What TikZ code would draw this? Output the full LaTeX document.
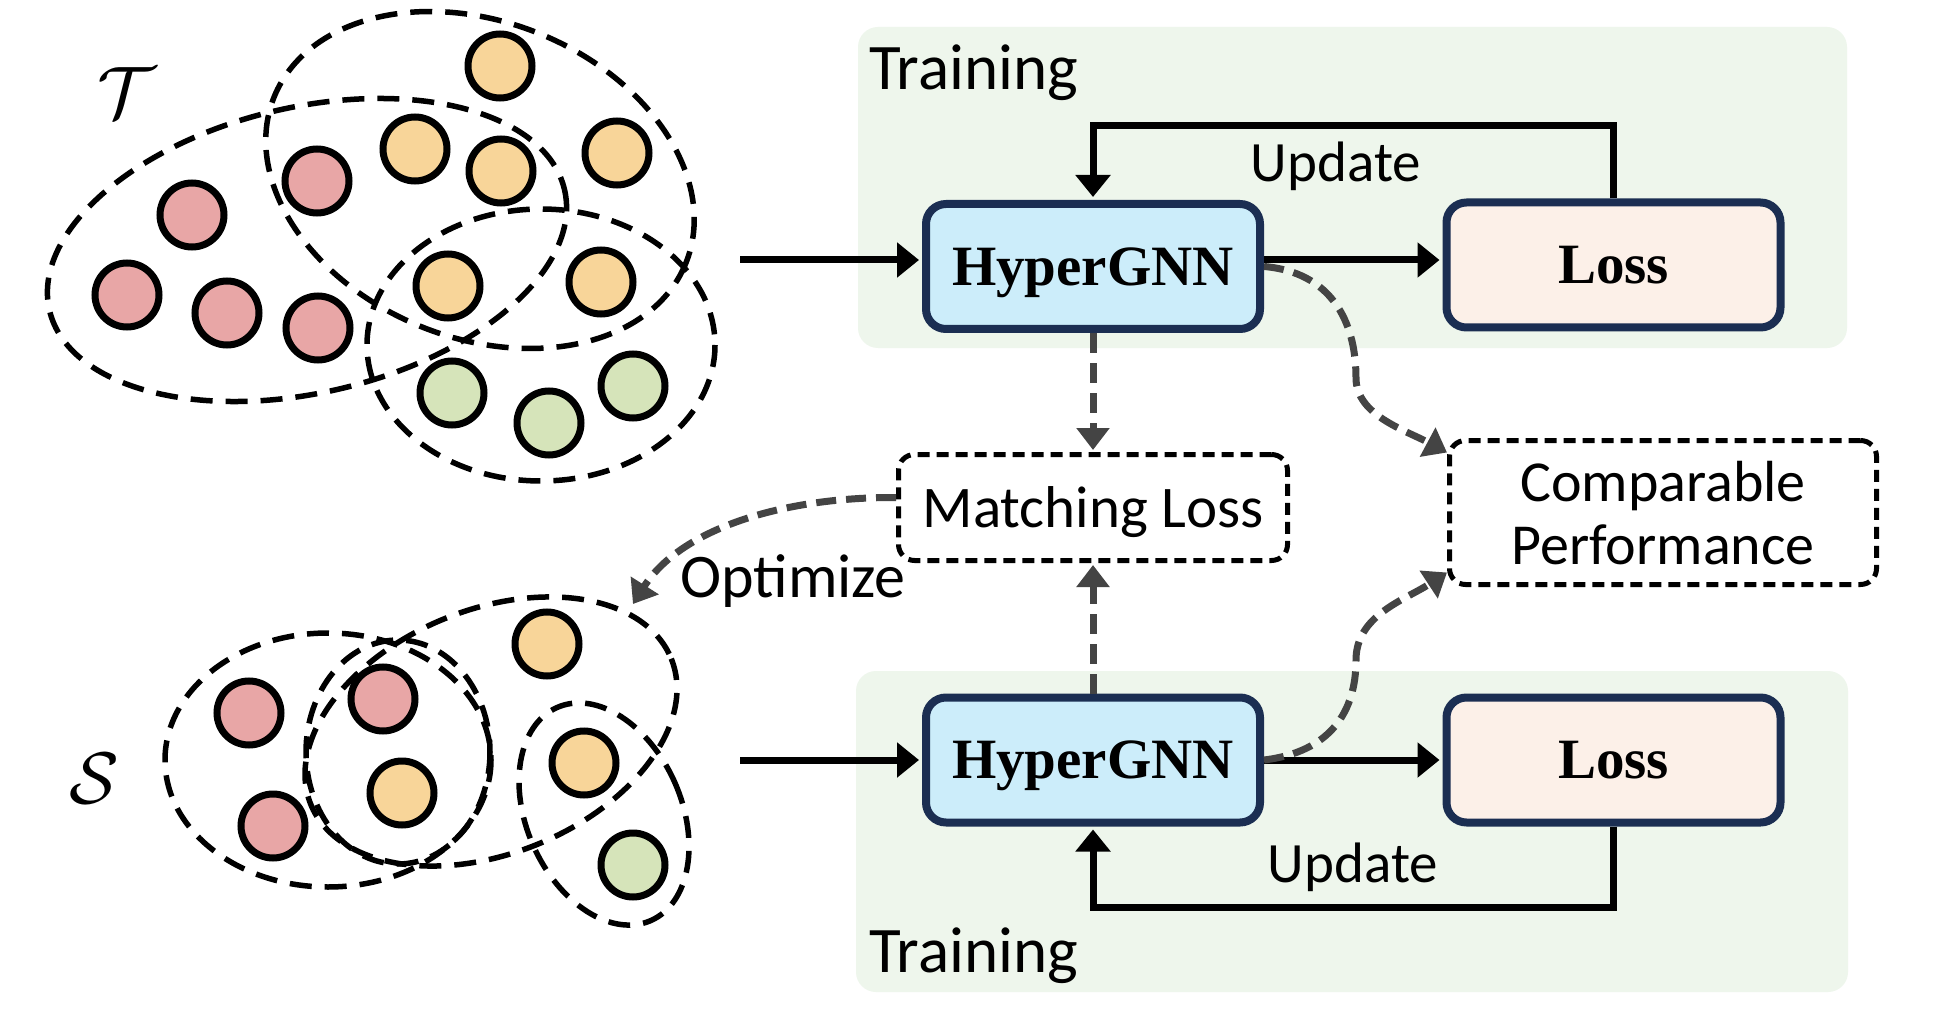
\documentclass[tikz,border=0pt]{standalone}
\usepackage{fontspec}
\setmainfont{Carlito}
\newfontfamily\timesf{Liberation Serif}
\usetikzlibrary{arrows.meta,calc}
\definecolor{nred}{HTML}{E8A6A6}
\definecolor{norange}{HTML}{F8D599}
\definecolor{ngreen}{HTML}{D6E4BA}
\definecolor{panelgreen}{HTML}{EEF6EC}
\definecolor{hgfill}{HTML}{CCEDFA}
\definecolor{lossfill}{HTML}{FCF0E8}
\definecolor{navy}{HTML}{1B2E52}
\definecolor{arrowgray}{HTML}{444444}
\begin{document}
\begin{tikzpicture}[x=1pt,y=-1pt,
  vert/.style={circle,draw=black,line width=7pt,minimum size=64pt,inner sep=0pt},
  vred/.style={vert,fill=nred},
  vorg/.style={vert,fill=norange},
  vgrn/.style={vert,fill=ngreen},
  hedge/.style={draw=black,line width=5.5pt,dash pattern=on 22pt off 13pt},
  panelbox/.style={fill=panelgreen,rounded corners=20pt},
  modelbox/.style={draw=navy,line width=8pt,rounded corners=20pt,inner sep=0pt,
    minimum width=334pt,minimum height=125pt,text depth=0pt,
    font=\timesf\bfseries\fontsize{57}{60}\selectfont},
  hgbox/.style={modelbox,fill=hgfill},
  lossbox/.style={modelbox,fill=lossfill},
  dbox/.style={draw=black,fill=white,line width=5pt,dash pattern=on 12pt off 7pt,
    rounded corners=16pt,inner sep=0pt,text depth=0pt},
  arr/.style={draw=black,line width=7pt,-{Triangle[length=22pt,width=34pt]}},
  garr/.style={draw=arrowgray,line width=7pt,dash pattern=on 20pt off 10pt,
    -{Triangle[length=22pt,width=32pt]}},
  lbl/.style={inner sep=0pt},
  setlbl/.style={inner sep=0pt,scale=7.3}
]
\useasboundingbox[fill=white] (0,0) rectangle (1960,1032);

% training panels
\fill[panelbox] (858,27) rectangle (1847,348);
\fill[panelbox] (856,671) rectangle (1848,992);

% hypergraph T: hyperedges
\draw[hedge,rotate around={13.2:(307,250)}] (307,250) ellipse [x radius=264.5, y radius=142.7];
\draw[hedge,rotate around={-22:(480,180)}] (480,180) ellipse [x radius=222, y radius=158];
\draw[hedge] (541,345) ellipse [x radius=174, y radius=136];

% hypergraph T: vertices
\node[vred] (t1) at (192,215) {};
\node[vred] (t2) at (127,295) {};
\node[vred] (t3) at (227,313) {};
\node[vred] (t4) at (318,328) {};
\node[vred] (t5) at (317,181) {};
\node[vorg] (t6) at (500,66) {};
\node[vorg] (t7) at (415,149) {};
\node[vorg] (t8) at (501,171) {};
\node[vorg] (t9) at (617,153) {};
\node[vorg] (t10) at (448,286) {};
\node[vorg] (t11) at (601,282) {};
\node[vgrn] (t12) at (452,393) {};
\node[vgrn] (t13) at (549,423) {};
\node[vgrn] (t14) at (633,386) {};

% hypergraph S: hyperedges
\draw[hedge] (328,760) ellipse [x radius=163, y radius=127];
\draw[hedge] (398,752) ellipse [x radius=92, y radius=112];
\draw[hedge,rotate around={22:(491,731.5)}] (491,731.5) ellipse [x radius=194.4, y radius=122];
\draw[hedge,rotate around={23.7:(604,814)}] (604,814) ellipse [x radius=77.5, y radius=116.4];

% hypergraph S: vertices
\node[vred] (s1) at (249,713) {};
\node[vred] (s2) at (383,699) {};
\node[vred] (s3) at (273,826) {};
\node[vorg] (s4) at (402,793) {};
\node[vorg] (s5) at (547,644) {};
\node[vorg] (s6) at (584,763) {};
\node[vgrn] (s7) at (633,865) {};

% set labels
\node[setlbl] (tl) at (127,93) {$\mathcal{T}$};
\node[setlbl] (sl) at (94,779) {$\mathcal{S}$};

% model boxes
\node[hgbox] (hg1) at (1093,266.5) {HyperGNN};
\node[lossbox] (loss1) at (1613.5,265) {Loss};
\node[hgbox] (hg2) at (1093,760) {HyperGNN};
\node[lossbox] (loss2) at (1613.5,760) {Loss};

% dashed boxes
\node[dbox,minimum width=389pt,minimum height=106pt,font=\fontsize{59}{63}\selectfont] (ml) at (1093,507.5) {Matching Loss};
\node[dbox,minimum width=427pt,minimum height=144pt,align=center,font=\fontsize{58}{63}\selectfont] (cp) at (1663,512.5) {Comparable\\Performance};

% panel labels
\node[lbl,anchor=base west,font=\fontsize{65}{70}\selectfont] (tr1) at (869,90) {Training};
\node[lbl,anchor=base west,font=\fontsize{65}{70}\selectfont] (tr2) at (869,972) {Training};
\node[lbl,anchor=base,font=\fontsize{57}{60}\selectfont] (up1) at (1336,182) {Update};
\node[lbl,anchor=base,font=\fontsize{57}{60}\selectfont] (up2) at (1353,882) {Update};
\node[lbl,anchor=base west,font=\fontsize{62}{66}\selectfont] (opt) at (680,597) {Optimize};

% solid arrows
\coordinate (i1) at (740,260);
\coordinate (i2) at (740,760);
\draw[arr,shorten >=3pt] (i1) -- (i1 -| hg1.west);
\draw[arr,shorten >=3pt] (i1 -| hg1.east) -- (i1 -| loss1.west);
\draw[arr,shorten >=3pt] (i2) -- (i2 -| hg2.west);
\draw[arr,shorten >=3pt] (i2 -| hg2.east) -- (i2 -| loss2.west);

% update loops
\coordinate (u1) at (0,126);
\coordinate (u2) at (0,907);
\draw[arr,shorten >=3pt] (loss1.north) -- (loss1.north |- u1) -- (hg1.north |- u1) -- (hg1.north);
\draw[arr,shorten >=3pt] (loss2.south) -- (loss2.south |- u2) -- (hg2.south |- u2) -- (hg2.south);

% dashed gray arrows
\draw[garr,shorten >=2pt] (hg1.south) -- (ml.north);
\draw[garr,shorten >=2pt] (hg2.north) -- (ml.south);
\draw[garr] (hg1.east) .. controls (1330,272) and (1356,320) .. (1356,378)
  .. controls (1356,415) and (1405,430) .. ($(cp.west)+(0,-60)$);
\draw[garr] (hg2.east) .. controls (1330,752) and (1356,712) .. (1356,660)
  .. controls (1356,615) and (1405,600) .. ($(cp.west)+(0,60)$);
\coordinate (optend) at (633,604);
\draw[garr] ($(ml.west)+(0,-10)$) .. controls (780,497) and (680,530) .. (optend);
\end{tikzpicture}
\end{document}
